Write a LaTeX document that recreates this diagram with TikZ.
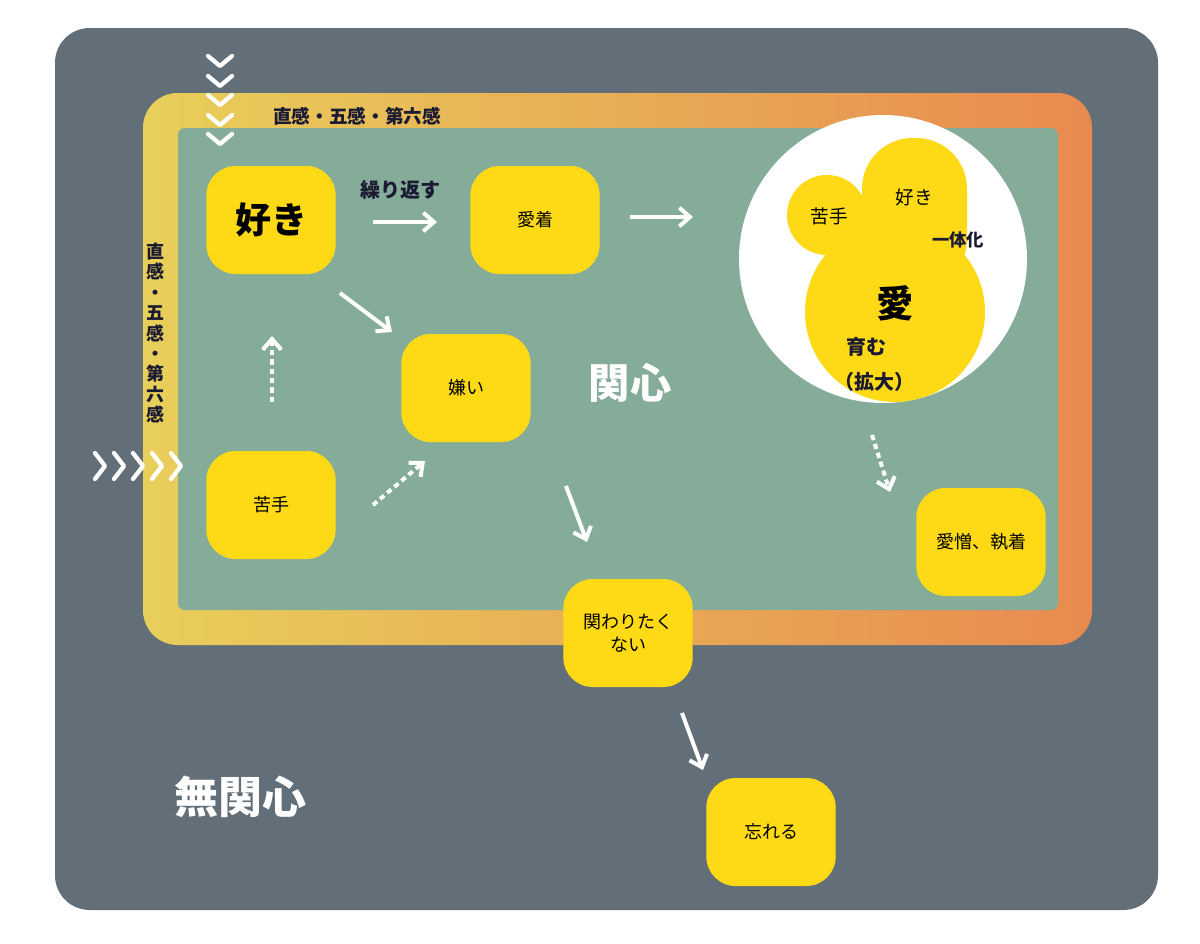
\documentclass[tikz,border=0pt]{standalone}
\usepackage{fontspec}
\setmainfont{Noto Sans CJK JP}
\usetikzlibrary{arrows.meta}
\definecolor{dk}{HTML}{636F78}
\definecolor{gr}{HTML}{85AC98}
\definecolor{yl}{HTML}{FDD916}
\definecolor{gl}{HTML}{E8CF5A}
\definecolor{gor}{HTML}{E88A50}
\definecolor{txt}{HTML}{1A1A33}
\tikzset{
 box/.style={fill=yl,rounded corners=22pt,minimum width=97pt,minimum height=81pt,inner sep=0pt,align=center,font=\fontsize{13.5}{17}\selectfont,text=black},
 arr/.style={white,line width=3pt,-{Straight Barb[length=8pt,width=14pt]}},
 darr/.style={arr,dash pattern=on 4pt off 3pt},
 chev/.style={white,line width=3.2pt,line cap=round,line join=round},
 lab/.style={text=txt,font=\fontsize{14}{16}\bfseries\selectfont}
}
\begin{document}
\begin{tikzpicture}[x=0.75pt,y=-0.75pt]
\useasboundingbox (0,0) rectangle (1200,943);
\fill[white] (0,0) rectangle (1200,943);
\fill[dk,rounded corners=26pt] (55,28) rectangle (1158,910);
\shade[left color=gl,right color=gor,rounded corners=26pt] (143,93) rectangle (1092,645);
\fill[gr,rounded corners=5pt] (178,128) rectangle (1058,610);
% love circle
\fill[white] (883,259) circle (144);
\begin{scope}
\clip (883,259) circle (144);
\fill[yl] (895,312) circle (90);
\fill[yl,rounded corners=38pt] (862,138) rectangle (967,290);
\fill[yl] (827,215) circle (40);
\fill[yl] (830,230) rectangle (900,260);
\end{scope}
\node[font=\fontsize{14}{16}\selectfont] (lk) at (914,197) {好き};
\node[font=\fontsize{14}{16}\selectfont] (ln) at (829,216) {苦手};
\node[lab,font=\fontsize{13}{15}\bfseries\selectfont] (one) at (958,240) {一体化};
\node[font=\fontsize{28}{30}\bfseries\selectfont] (ai) at (895,303) {愛};
\node[lab,font=\fontsize{15}{17}\bfseries\selectfont] (hg) at (866,347) {育む};
\node[lab,font=\fontsize{15}{17}\bfseries\selectfont] (kd) at (874,382) {（拡大）};
% boxes
\node[box,font=\fontsize{27}{29}\bfseries\selectfont] (suki) at (271,220) {好き};
\node[box] (aichaku) at (535,220) {愛着};
\node[box] (kirai) at (466,388) {嫌い};
\node[box] (nigate) at (271,505) {苦手};
\node[box] (aizo) at (981,542) {愛憎、執着};
\node[box] (kakawari) at (628,633) {関わりたく\\ない};
\node[box] (wasure) at (771,832) {忘れる};
% arrows
\coordinate (a1) at (373,222); \coordinate (a2) at (437,222);
\draw[arr] (a1) -- (a2);
\node[lab,font=\fontsize{15}{17}\bfseries\selectfont] (kurikaesu) at (400,190) {繰り返す};
\coordinate (b1) at (630,217); \coordinate (b2) at (693,217);
\draw[arr] (b1) -- (b2);
\coordinate (c1) at (340,293); \coordinate (c2) at (392,332);
\draw[arr] (c1) -- (c2);
\coordinate (d1) at (272,402); \coordinate (d2) at (272,336);
\draw[darr] (d1) -- (d2);
\coordinate (e1) at (373,505); \coordinate (e2) at (425,461);
\draw[darr] (e1) -- (e2);
\coordinate (f1) at (566,486); \coordinate (f2) at (587,542);
\draw[arr] (f1) -- (f2);
\coordinate (g1) at (872,435); \coordinate (g2) at (890,492);
\draw[darr] (g1) -- (g2);
\coordinate (h1) at (682,713); \coordinate (h2) at (703,770);
\draw[arr] (h1) -- (h2);
% texts
\node[text=white,font=\fontsize{31}{33}\bfseries\selectfont] (kanshin) at (630,383) {関心};
\node[text=white,font=\fontsize{33}{35}\bfseries\selectfont] (mukanshin) at (240,797) {無関心};
\node[lab] (top) at (357,116) {直感・五感・第六感};
\node[lab,align=center,inner sep=0pt,font=\fontsize{13.5}{15.3}\bfseries\selectfont] (side) at (155,333) {直\\感\\・\\五\\感\\・\\第\\六\\感};
% chevrons
\foreach \y in {62,82,101,121,140}
  \draw[chev] (208,\y-6) -- (220,\y+4) -- (232,\y-6);
\foreach \x in {100,119,138,157,176}
  \draw[chev] (\x-5,453) -- (\x+5,466) -- (\x-5,479);
\end{tikzpicture}
\end{document}
